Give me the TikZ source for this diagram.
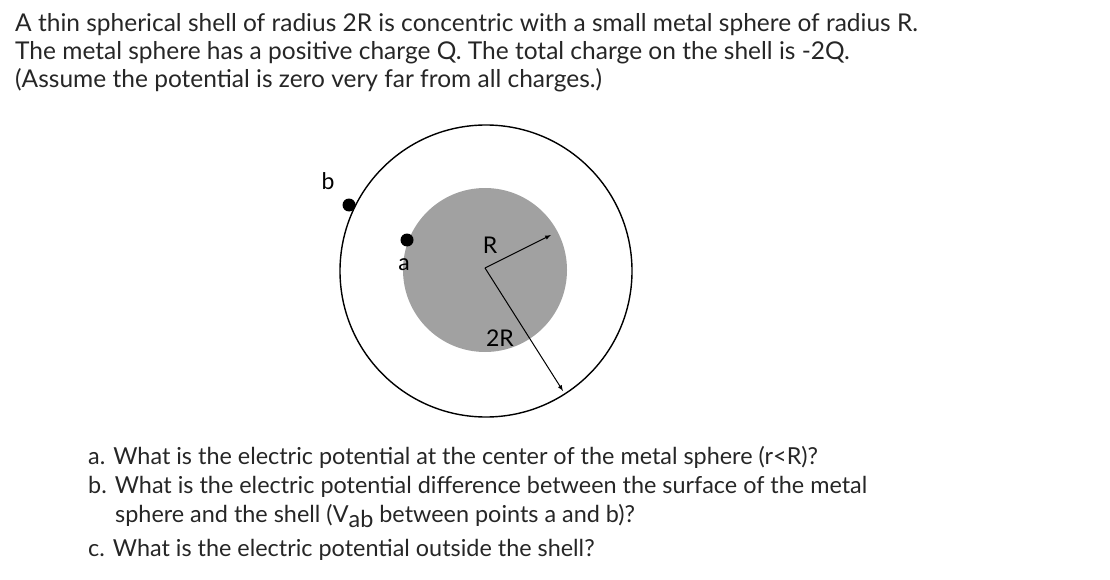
\documentclass[tikz,border=0pt]{standalone}
\usepackage{fontspec}
\setmainfont{Lato}
\begin{document}
\begin{tikzpicture}[x=1pt,y=-1pt,
  txt/.style={anchor=base west,inner sep=0pt,font=\fontsize{24.5}{28}\selectfont,text=black!85},
  txtb/.style={anchor=base west,inner sep=0pt,font=\fontsize{23.4}{28}\selectfont,text=black!85},
  lbl/.style={inner sep=0pt,font=\fontsize{23}{28}\selectfont},
  dot/.style={circle,fill=black,inner sep=0pt,minimum size=13pt},
  arr/.style={-latex,line width=1pt}]
\useasboundingbox (0,0) rectangle (1110,580);
\node[txt] (t1) at (15,32) {A thin spherical shell of radius 2R is concentric with a small metal sphere of radius R.};
\node[txt] (t2) at (15,60) {The metal sphere has a positive charge Q. The total charge on the shell is -2Q.};
\node[txt] (t3) at (15,88) {(Assume the potential is zero very far from all charges.)};
\fill[black!37] (485,270) circle (82);
\draw[line width=1.4pt] (486,271) circle (146);
\coordinate (c) at (485,268);
\coordinate (rend) at (551,235);
\coordinate (tend) at (563,391);
\draw[arr] (c) -- (rend);
\draw[arr] (c) -- (tend);
\node[dot] (b) at (349,205) {};
\node[dot] (a) at (407,240) {};
\node[lbl] (lb) at (328,181) {b};
\node[lbl] (la) at (404,265) {a};
\node[lbl] (lr) at (490,245) {R};
\node[lbl] (l2r) at (500,338) {2R};
\node[txtb] (q1) at (88,464) {a. What is the electric potential at the center of the metal sphere (r<R)?};
\node[txtb] (q2) at (88,493) {b. What is the electric potential difference between the surface of the metal};
\node[txtb] (q3) at (115,522) {sphere and the shell (V\raisebox{-5pt}{ab} between points a and b)?};
\node[txtb] (q4) at (88,556) {c. What is the electric potential outside the shell?};
\end{tikzpicture}
\end{document}
